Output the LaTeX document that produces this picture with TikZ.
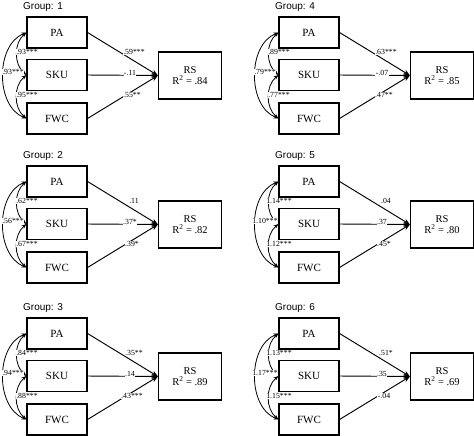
\documentclass[tikz,border=0pt]{standalone}
\usepackage{fontspec}
\setmainfont{Liberation Serif}
\setsansfont{Liberation Sans}
\usetikzlibrary{arrows.meta}
\tikzset{
  box/.style={draw, line width=1.1pt, minimum width=60pt, minimum height=31pt, inner sep=0pt,
    font=\fontsize{11}{12}\selectfont},
  rsbox/.style={draw, line width=1.1pt, minimum width=63pt, minimum height=47pt, inner sep=0pt,
    align=center, font=\fontsize{10.5}{10.5}\selectfont},
  effect/.style={-{Stealth[length=6.5pt,width=5pt]}, line width=0.95pt},
  corr/.style={{Stealth[length=5pt,width=3.8pt]}-{Stealth[length=5pt,width=3.8pt]}, line width=0.8pt},
  coef/.style={font=\fontsize{7.8}{8}\selectfont, fill=white, inner sep=0.4pt},
  grp/.style={anchor=west, inner sep=0pt, font=\sffamily\fontsize{10}{11}\selectfont}
}
\newcommand\sempanel[8]{%
  \node[grp] (g) at (23,7.5) {Group: #1};
  \node[box] (pa) at (57,32.5) {PA};
  \node[box] (sku) at (57,75) {SKU};
  \node[box] (fwc) at (57,118.5) {FWC};
  \node[rsbox] (rs) at (190,75.5) {RS\\R\textsuperscript{2} = #8};
  \draw[effect] (pa.east) -- (rs.west);
  \draw[effect] (sku.east) -- (rs.west);
  \draw[effect] (fwc.east) -- (rs.west);
  \draw[corr] (pa.west) to[bend right=50] (sku.west);
  \draw[corr] (sku.west) to[bend right=50] (fwc.west);
  \draw[corr] (pa.west) to[bend right=68] (fwc.west);
  \node[coef] (c1) at (27,52) {#2};
  \node[coef] (c2) at (13,72) {#3};
  \node[coef] (c3) at (27,95) {#4};
  \node[coef] (p1) at (134,52) {#5};
  \node[coef] (p2) at (130,73) {#6};
  \node[coef] (p3) at (132,95) {#7};
}
\begin{document}
\begin{tikzpicture}[x=1pt,y=-1pt]
  \useasboundingbox (0,0) rectangle (474,436);
  \begin{scope}[name prefix=g1-]
    \sempanel{1}{.93***}{.93***}{.95***}{.59***}{-.11}{.55**}{.84}
  \end{scope}
  \begin{scope}[shift={(252,0)}, name prefix=g4-]
    \sempanel{4}{.89***}{.79***}{.77***}{.63***}{-.07}{.47**}{.85}
  \end{scope}
  \begin{scope}[shift={(0,149)}, name prefix=g2-]
    \sempanel{2}{.62***}{.56***}{.67***}{.11}{.37*}{.39*}{.82}
  \end{scope}
  \begin{scope}[shift={(252,149)}, name prefix=g5-]
    \sempanel{5}{1.14***}{1.10***}{1.12***}{.04}{.37}{.45*}{.80}
  \end{scope}
  \begin{scope}[shift={(0,301)}, name prefix=g3-]
    \sempanel{3}{.84***}{.94***}{.88***}{.35**}{.14}{.43***}{.89}
  \end{scope}
  \begin{scope}[shift={(252,301)}, name prefix=g6-]
    \sempanel{6}{1.13***}{1.17***}{1.15***}{.51*}{.35}{-.04}{.69}
  \end{scope}
\end{tikzpicture}
\end{document}
